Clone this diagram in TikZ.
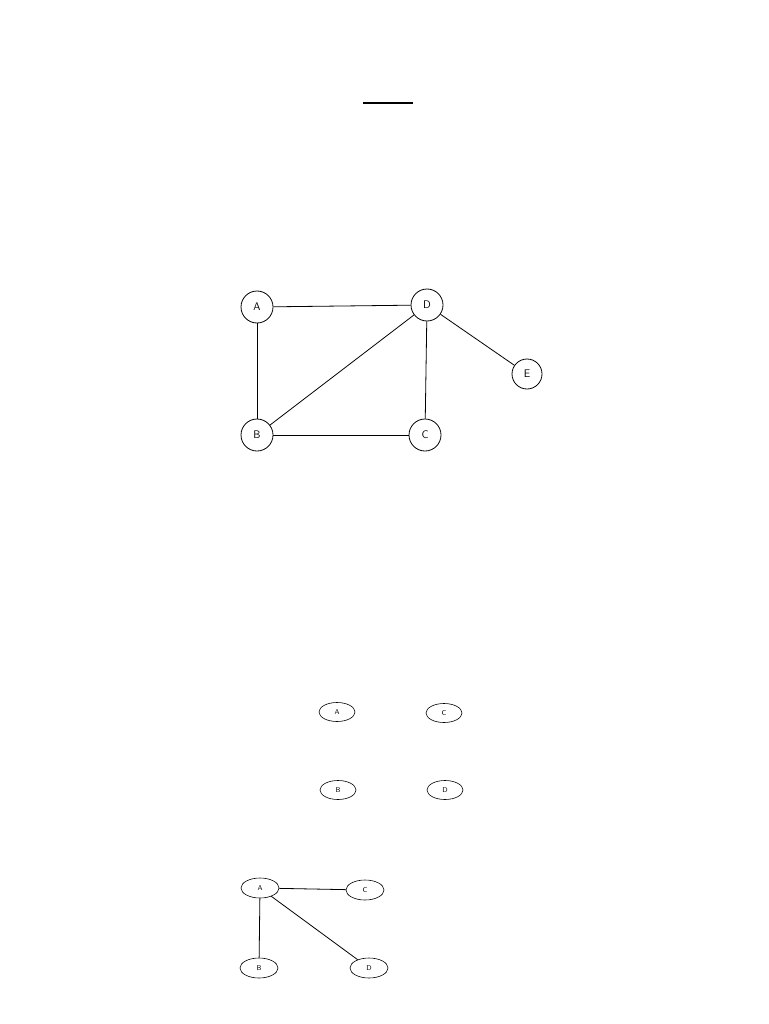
\documentclass[tikz,border=0pt]{standalone}
\usetikzlibrary{shapes.geometric}
\begin{document}
\begin{tikzpicture}[x=1pt,y=1pt,yscale=-1,xscale=1,
  bignode/.style={draw,circle,minimum size=32pt,inner sep=0pt,line width=0.8pt,font=\sffamily\fontsize{11}{13}\selectfont},
  smallnode/.style={draw,ellipse,minimum width=36pt,minimum height=19pt,inner sep=0pt,line width=0.6pt,font=\sffamily\fontsize{7}{8}\selectfont},
  edge/.style={line width=0.8pt}]
\useasboundingbox (0,0) rectangle (768,1024);

%Straight Lines [id:title]
\draw [line width=1.2pt] (363,103) -- (413,103) ;

%Shape: Circle [id:graph1]
\node [bignode] (A) at (257,307) {A};
\node [bignode] (D) at (427,305) {D};
\node [bignode,minimum size=30pt] (E) at (527,374) {E};
\node [bignode] (B) at (257,435) {B};
\node [bignode] (C) at (425,435) {C};
%Straight Lines [id:graph1edges]
\draw [edge] (A) -- (D) ;
\draw [edge] (A) -- (B) ;
\draw [edge] (B) -- (D) ;
\draw [edge] (B) -- (C) ;
\draw [edge] (D) -- (C) ;
\draw [edge] (D) -- (E) ;

%Shape: Ellipse [id:graph2]
\node [smallnode] (A2) at (337,712) {A};
\node [smallnode] (C2) at (444,713) {C};
\node [smallnode] (B2) at (338,790) {B};
\node [smallnode] (D2) at (445,790) {D};

%Shape: Ellipse [id:graph3]
\node [smallnode,minimum width=38pt,minimum height=20pt] (A3) at (260,888) {A};
\node [smallnode,minimum width=38pt,minimum height=20pt] (C3) at (365,890) {C};
\node [smallnode,minimum width=38pt,minimum height=20pt] (B3) at (259,968) {B};
\node [smallnode,minimum width=38pt,minimum height=20pt] (D3) at (369,968) {D};
%Straight Lines [id:graph3edges]
\draw [edge] (A3) -- (C3) ;
\draw [edge] (A3) -- (B3) ;
\draw [edge] (A3) -- (D3) ;

\end{tikzpicture}
\end{document}
